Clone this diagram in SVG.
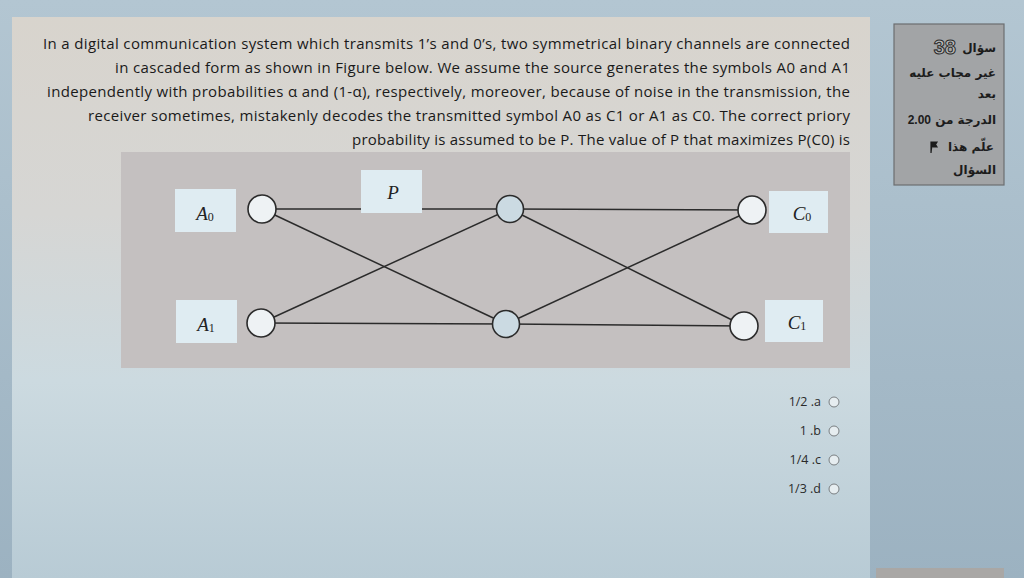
<svg xmlns="http://www.w3.org/2000/svg" width="1024" height="578" viewBox="0 0 1024 578">
<defs>
<linearGradient id="bg" x1="0" y1="0" x2="0" y2="1">
<stop offset="0" stop-color="#b3c6d2"/>
<stop offset="1" stop-color="#9cb2c1"/>
</linearGradient>
<linearGradient id="page" x1="0" y1="0" x2="0" y2="1">
<stop offset="0" stop-color="#d8d4cd"/>
<stop offset="0.35" stop-color="#d6d6d4"/>
<stop offset="0.65" stop-color="#ccdae0"/>
<stop offset="1" stop-color="#b8cbd5"/>
</linearGradient>
<style>
.q{font-family:"Open Sans","Liberation Sans",sans-serif;font-size:15px;fill:#1a1a1a;text-anchor:end}
.opt{font-family:"Open Sans","Liberation Sans",sans-serif;font-size:12.5px;fill:#2a2a2a;text-anchor:end}
.radio{fill:#e6edf0;stroke:#7a7f82;stroke-width:1}
.lbl{fill:#dfecf2}
.lt{font-family:"Liberation Serif",serif;font-style:italic;font-size:19px;fill:#222;text-anchor:middle}
.sub{font-style:normal;font-size:12px}
.node{fill:#eef2f4;stroke:#2b2b2b;stroke-width:1.6}
.mid{fill:#cbdae2;stroke:#2b2b2b;stroke-width:1.6}
.edge{stroke:#2b2b2b;stroke-width:1.5;fill:none}
.ar{font-family:"DejaVu Sans","Noto Sans",sans-serif;font-size:12px;font-weight:bold;fill:#1c1c1c;text-anchor:end}
</style>
</defs>
<rect x="0" y="0" width="1024" height="578" fill="url(#bg)"/>
<rect x="12" y="17" width="858" height="561" fill="url(#page)"/>

<g id="question-text">
<text class="q" x="850" y="49" textLength="807">In a digital communication system which transmits 1’s and 0’s, two symmetrical binary channels are connected</text>
<text class="q" x="850" y="73" textLength="735">in cascaded form as shown in Figure below. We assume the source generates the symbols A0 and A1</text>
<text class="q" x="850" y="97" textLength="803">independently with probabilities α and (1-α), respectively, moreover, because of noise in the transmission, the</text>
<text class="q" x="850" y="121" textLength="762">receiver sometimes, mistakenly decodes the transmitted symbol A0 as C1 or A1 as C0. The correct priory</text>
<text class="q" x="850" y="145" textLength="498">probability is assumed to be P. The value of P that maximizes P(C0) is</text>
</g>

<rect id="figure-panel" x="121" y="152" width="729" height="216" fill="#c4c0c0"/>

<g id="connectors">
<line class="edge" x1="262" y1="209" x2="510" y2="209"/>
<line class="edge" x1="262" y1="209" x2="506" y2="324"/>
<line class="edge" x1="261" y1="323" x2="510" y2="209"/>
<line class="edge" x1="261" y1="323" x2="506" y2="324"/>
<line class="edge" x1="510" y1="209" x2="752" y2="210"/>
<line class="edge" x1="510" y1="209" x2="744" y2="326"/>
<line class="edge" x1="506" y1="324" x2="752" y2="210"/>
<line class="edge" x1="506" y1="324" x2="744" y2="326"/>
</g>

<g id="label-P">
<rect class="lbl" x="361" y="170" width="61" height="43"/>
<text class="lt" x="393" y="199">P</text>
</g>
<g id="node-A0">
<rect class="lbl" x="175" y="189" width="61" height="43"/>
<text class="lt" x="205" y="220">A<tspan class="sub" dy="1">0</tspan></text>
<circle class="node" cx="262" cy="209" r="14"/>
</g>
<g id="node-A1">
<rect class="lbl" x="176" y="300" width="61" height="43"/>
<text class="lt" x="206" y="331">A<tspan class="sub" dy="1">1</tspan></text>
<circle class="node" cx="261" cy="323" r="14"/>
</g>
<g id="node-M0">
<circle class="mid" cx="510" cy="209" r="13.5"/>
</g>
<g id="node-M1">
<circle class="mid" cx="506" cy="324" r="13.5"/>
</g>
<g id="node-C0">
<rect class="lbl" x="769" y="191" width="59" height="42"/>
<text class="lt" x="802" y="220">C<tspan class="sub" dy="1">0</tspan></text>
<circle class="node" cx="752" cy="210" r="14"/>
</g>
<g id="node-C1">
<rect class="lbl" x="765" y="300" width="58" height="42"/>
<text class="lt" x="797" y="329">C<tspan class="sub" dy="1">1</tspan></text>
<circle class="node" cx="744" cy="326" r="14"/>
</g>

<g id="options">
<text class="opt" x="821" y="406">1/2 .a</text>
<circle class="radio" cx="834" cy="402" r="5"/>
<text class="opt" x="821" y="435">1 .b</text>
<circle class="radio" cx="834" cy="431" r="5"/>
<text class="opt" x="821" y="464">1/4 .c</text>
<circle class="radio" cx="834" cy="460" r="5"/>
<text class="opt" x="821" y="493">1/3 .d</text>
<circle class="radio" cx="834" cy="489" r="5"/>
</g>

<g id="sidebar">
<rect x="894" y="24" width="110" height="161" fill="#a2a4a6" stroke="#6c6e70" stroke-width="1.2"/>
<text class="ar" x="996" y="52">سؤال</text>
<text x="956" y="54" font-family="'Liberation Sans',sans-serif" font-size="20" font-weight="bold" fill="#b8b8b8" stroke="#2a2a2a" stroke-width="1" text-anchor="end">38</text>
<text class="ar" x="996" y="77">غير مجاب عليه</text>
<text class="ar" x="996" y="98">بعد</text>
<text class="ar" x="996" y="124">الدرجة من</text>
<text x="931" y="124" font-family="'Liberation Sans',sans-serif" font-size="12" font-weight="bold" fill="#1c1c1c" text-anchor="end">2.00</text>
<path d="M931 153 V142 H937 L935.5 144.5 L937 147 H932.5" fill="#1c1c1c" stroke="#1c1c1c" stroke-width="1.2"/>
<text class="ar" x="994" y="151">علّم هذا</text>
<text class="ar" x="996" y="174">السؤال</text>
</g>
<rect x="876" y="568" width="128" height="10" fill="#a9a7a5"/>
</svg>
